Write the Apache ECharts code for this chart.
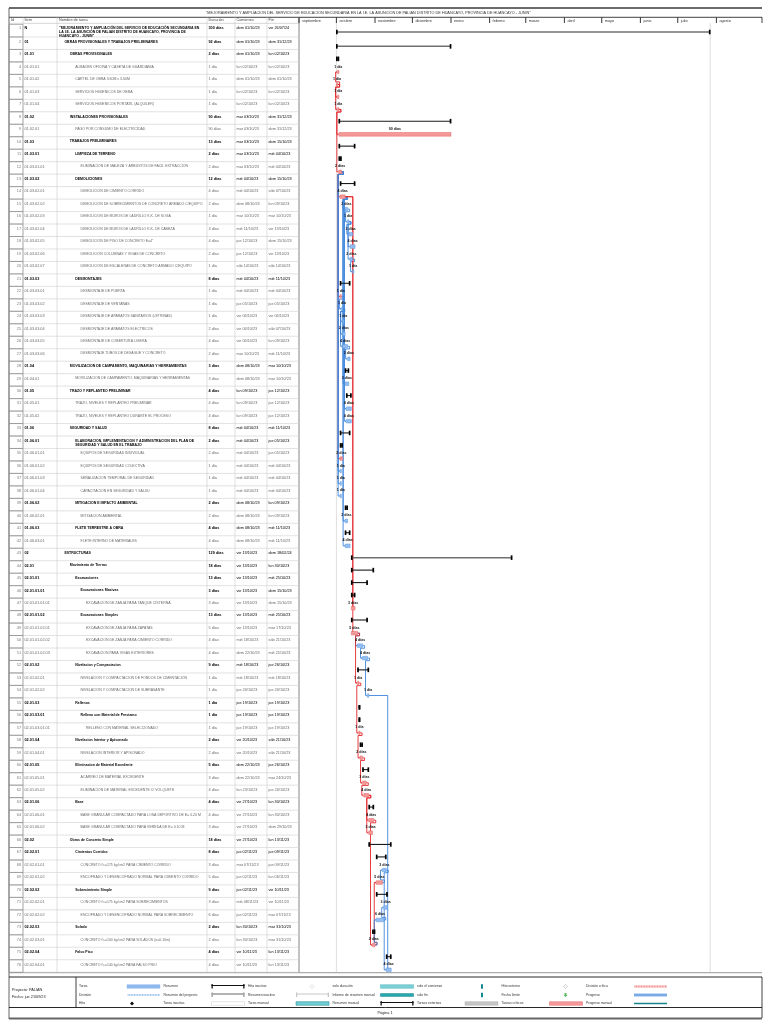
<!DOCTYPE html>
<html><head><meta charset="utf-8">
<script src="https://cdn.jsdelivr.net/npm/echarts@6/dist/echarts.min.js"></script>
<style>html,body{margin:0;padding:0;background:#fff}#c{width:768px;height:1024px}</style>
</head><body><div id="c"></div>
<script>
// ---------------- DATA ----------------
const title = '"MEJORAMIENTO Y AMPLIACION DEL SERVICIO DE EDUCACION SECUNDARIA EN LA I.E. LA ASUNCION DE PALIAN DISTRITO DE HUANCAYO, PROVINCIA DE HUANCAYO - JUNIN"';
const items = ['N','01','01.01','01.01.01','01.01.02','01.01.03','01.01.04','01.02','01.02.01','01.03',
 '01.03.01','01.03.01.01','01.03.02','01.03.02.01','01.03.02.02','01.03.02.03','01.03.02.04','01.03.02.05','01.03.02.06','01.03.02.07',
 '01.03.03','01.03.03.01','01.03.03.02','01.03.03.03','01.03.03.04','01.03.03.05','01.03.03.06','01.04','01.04.01','01.05',
 '01.05.01','01.05.02','01.06','01.06.01','01.06.01.01','01.06.01.02','01.06.01.03','01.06.01.04','01.06.02','01.06.02.01',
 '01.06.03','01.06.03.01','02','02.01','02.01.01','02.01.01.01','02.01.01.01.01','02.01.01.02','02.01.01.02.01','02.01.01.02.02',
 '02.01.01.02.03','02.01.02','02.01.02.01','02.01.02.02','02.01.03','02.01.03.01','02.01.03.01.01','02.01.04','02.01.04.01','02.01.05',
 '02.01.05.01','02.01.05.02','02.01.06','02.01.06.01','02.01.06.02','02.02','02.02.01','02.02.01.01','02.02.01.02','02.02.02',
 '02.02.02.01','02.02.02.02','02.02.03','02.02.03.01','02.02.04','02.02.04.01'];
const names = ['"MEJORAMIENTO Y AMPLIACIÓN DEL SERVICIO DE EDUCACIÓN SECUNDARIA EN LA I.E. LA ASUNCIÓN DE PALIAN DISTRITO DE HUANCAYO, PROVINCIA DE HUANCAYO - JUNIN"',
 'OBRAS PROVISIONALES Y TRABAJOS PRELIMINARES','OBRAS PROVISIONALES','ALMACEN OFICINA Y CASETA DE GUARDIANIA','CARTEL DE OBRA 3.60M x 3.60M',
 'SERVICIOS HIGIENICOS DE OBRA','SERVICIOS HIGIENICOS PORTATIL (ALQUILER)','INSTALACIONES PROVISIONALES','PAGO POR CONSUMO DE ELECTRICIDAD','TRABAJOS PRELIMINARES',
 'LIMPIEZA DE TERRENO','ELIMINACION DE MALEZA Y ARBUSTOS DE FACIL EXTRACCION','DEMOLICIONES','DEMOLICION DE CIMIENTO CORRIDO','DEMOLICION DE SOBRECIMIENTOS DE CONCRETO ARMADO C/EQUIPO',
 'DEMOLICION DE MUROS DE LADRILLO K.K. DE SOGA','DEMOLICION DE MUROS DE LADRILLO K.K. DE CABEZA','DEMOLICION DE PISO DE CONCRETO E=4"','DEMOLICION COLUMNAS Y VIGAS DE CONCRETO','DEMOLICION DE ESCALERAS DE CONCRETO ARMADO C/EQUIPO',
 'DESMONTAJES','DESMONTAJE DE PUERTA','DESMONTAJE DE VENTANAS','DESMONTAJE DE APARATOS SANITARIOS (LETRINAS)','DESMONTAJE DE APARATOS ELECTRICOS',
 'DESMONTAJE DE COBERTURA LIGERA','DESMONTAJE TUBOS DE DESAGUE Y CONCRETO','MOVILIZACION DE CAMPAMENTO, MAQUINARIAS Y HERRAMIENTAS','MOVILIZACION DE CAMPAMENTO, MAQUINARIAS Y HERRAMIENTAS','TRAZO Y REPLANTEO PRELIMINAR',
 'TRAZO, NIVELES Y REPLANTEO PRELIMINAR','TRAZO, NIVELES Y REPLANTEO DURANTE EL PROCESO','SEGURIDAD Y SALUD','ELABORACION, IMPLEMENTACION Y ADMINISTRACION DEL PLAN DE SEGURIDAD Y SALUD EN EL TRABAJO','EQUIPOS DE SEGURIDAD INDIVIDUAL',
 'EQUIPOS DE SEGURIDAD COLECTIVA','SEÑALIZACION TEMPORAL DE SEGURIDAD','CAPACITACION EN SEGURIDAD Y SALUD','MITIGACION E IMPACTO AMBIENTAL','MITIGACION AMBIENTAL',
 'FLETE TERRESTRE A OBRA','FLETE INTERNO DE MATERIALES','ESTRUCTURAS','Movimiento de Tierras','Excavaciones',
 'Excavaciones Masivas','EXCAVACION DE ZANJA PARA TANQUE CISTERNA','Excavaciones Simples','EXCAVACION DE ZANJA PARA ZAPATAS','EXCAVACION DE ZANJA PARA CIMIENTO CORRIDO',
 'EXCAVACION PARA VIGAS EXTERIORES','Nivelacion y Compactacion','NIVELACION Y COMPACTACION DE FONDOS DE CIMENTACION','NIVELACION Y COMPACTACION DE SUBRASANTE','Rellenos',
 'Relleno con Material de Prestamo','RELLENO CON MATERIAL SELECCIONADO','Nivelacion Interior y Apisonado','NIVELACION INTERIOR Y APISONADO','Eliminacion de Material Excedente',
 'ACARREO DE MATERIAL EXCEDENTE','ELIMINACION DE MATERIAL EXCEDENTE C/ VOLQUETE','Base','BASE GRANULAR COMPACTADO PARA LOSA DEPORTIVO DE E= 0.20 M','BASE GRANULAR COMPACTADO PARA VEREDA DE E= 0.10 M',
 'Obras de Concreto Simple','Cimientos Corridos',"CONCRETO f'c=175 kg/cm2 PARA CIMIENTO CORRIDO",'ENCOFRADO Y DESENCOFRADO NORMAL PARA CIMIENTO CORRIDO','Sobrecimiento Simple',
 "CONCRETO f'c=175 kg/cm2 PARA SOBRECIMIENTOS",'ENCOFRADO Y DESENCOFRADO NORMAL PARA SOBRECIMIENTO','Solado',"CONCRETO f'c=100 kg/cm2 PARA SOLADOS (e=0.10m)",'Falso Piso',
 "CONCRETO f'c=140 kg/cm2 PARA FALSO PISO"];
const durations = [300,92,2,1,1,1,1,90,90,13, 2,2,12,4,2,1,3,4,2,1, 8,1,1,1,2,4,2,3,3,4, 4,4,8,2,2,1,1,1,2,2,
 4,4,129,18,13,3,3,13,5,4, 4,9,1,1,1,1,1,2,2,5, 3,4,4,4,3,18,8,3,5,9, 3,6,2,2,4,4];
const starts = ['2023-10-01','2023-10-01','2023-10-01','2023-10-02','2023-10-01','2023-10-02','2023-10-02','2023-10-03','2023-10-03','2023-10-03',
 '2023-10-03','2023-10-03','2023-10-04','2023-10-04','2023-10-08','2023-10-10','2023-10-11','2023-10-12','2023-10-12','2023-10-14',
 '2023-10-04','2023-10-04','2023-10-05','2023-10-06','2023-10-06','2023-10-06','2023-10-10','2023-10-08','2023-10-08','2023-10-09',
 '2023-10-09','2023-10-09','2023-10-04','2023-10-04','2023-10-04','2023-10-04','2023-10-04','2023-10-04','2023-10-08','2023-10-08',
 '2023-10-08','2023-10-08','2023-10-13','2023-10-13','2023-10-13','2023-10-13','2023-10-13','2023-10-13','2023-10-13','2023-10-18',
 '2023-10-22','2023-10-18','2023-10-18','2023-10-26','2023-10-19','2023-10-19','2023-10-19','2023-10-20','2023-10-20','2023-10-22',
 '2023-10-22','2023-10-23','2023-10-27','2023-10-27','2023-10-27','2023-10-27','2023-11-02','2023-11-07','2023-11-02','2023-11-02',
 '2023-11-08','2023-11-02','2023-10-30','2023-10-30','2023-11-10','2023-11-10'];
const ends = ['2024-07-26','2023-12-31','2023-10-02','2023-10-02','2023-10-01','2023-10-02','2023-10-02','2023-12-31','2023-12-31','2023-10-15',
 '2023-10-04','2023-10-04','2023-10-15','2023-10-07','2023-10-09','2023-10-10','2023-10-13','2023-10-15','2023-10-13','2023-10-14',
 '2023-10-11','2023-10-04','2023-10-05','2023-10-06','2023-10-07','2023-10-09','2023-10-11','2023-10-10','2023-10-10','2023-10-12',
 '2023-10-12','2023-10-12','2023-10-11','2023-10-05','2023-10-05','2023-10-04','2023-10-04','2023-10-04','2023-10-09','2023-10-09',
 '2023-10-11','2023-10-11','2024-02-18','2023-10-30','2023-10-25','2023-10-15','2023-10-15','2023-10-25','2023-10-17','2023-10-21',
 '2023-10-25','2023-10-26','2023-10-18','2023-10-26','2023-10-19','2023-10-19','2023-10-19','2023-10-21','2023-10-21','2023-10-26',
 '2023-10-24','2023-10-26','2023-10-30','2023-10-30','2023-10-29','2023-11-13','2023-11-09','2023-11-09','2023-11-06','2023-11-10',
 '2023-11-10','2023-11-07','2023-10-31','2023-10-31','2023-11-13','2023-11-13'];
const summaryIds = [1,2,3,8,10,11,13,21,28,30,33,34,39,41,43,44,45,46,48,52,55,56,58,60,63,66,67,70,73,75];
const criticalIds = [4,5,6,7,9,12,14,22,35,47,49,53,57,59,61,62,64,65,69,74];
// [successor id, predecessor id]
const links = [[4,5],[6,5],[7,5],[9,7],[12,7],[14,12],[22,12],[35,12],[36,12],[37,12],[38,12],
 [15,14],[16,15],[17,16],[18,16],[19,16],[20,19],[23,22],[24,23],[25,23],[26,23],[27,26],
 [29,14],[31,14],[32,14],[40,14],[42,14],[47,14],[49,14],[50,49],[51,50],[53,49],[54,51],[57,53],[59,57],
 [61,59],[62,61],[64,62],[65,62],[74,64],[69,74],[72,74],[68,69],[71,72],[76,68],[76,54]];
const monthStarts = ['2023-09-01','2023-10-01','2023-11-01','2023-12-01','2024-01-01','2024-02-01','2024-03-01','2024-04-01','2024-05-01','2024-06-01','2024-07-01','2024-08-01'];
const monthLabels = ['septiembre','octubre','noviembre','diciembre','enero','febrero','marzo','abril','mayo','junio','julio','agosto'];
const headers = ['Id','Item','Nombre de tarea','Duración','Comienzo','Fin'];
const dayNames = ['dom','lun','mar','mié','jue','vie','sáb'];

// ---------------- LAYOUT ----------------
const FONT = '"Liberation Sans", Arial, sans-serif';
const FS = 3.8, FSN = 3.5;
const GRID_TOP = 24.5, ROW_H = 12.47;
const N = items.length;
const TL = 9;
const COL = {id: 9, item: 23, name: 57, dur: 207, start: 235, end: 267, right: 299};
const RIGHT = 762;
const DAY = 86400000;
const T = s => { const p = s.split('-').map(Number); return new Date(p[0], p[1]-1, p[2]).getTime(); };
const fmtDate = s => { const d = new Date(T(s)); const p = s.split('-'); return dayNames[d.getDay()] + ' ' + p[2] + '/' + p[1] + '/' + p[0].slice(2); };
const durText = d => d + (d === 1 ? ' día' : ' días');
const level = i => i === 0 ? 0 : items[i].split('.').length;
const ids = items.map((_, i) => String(i + 1));
const isSummary = i => summaryIds.indexOf(i + 1) >= 0;
const isCrit = i => criticalIds.indexOf(i + 1) >= 0;

// ---------------- RENDERERS ----------------
function renderTable(params, api) {
  const i = params.dataIndex;
  const c = api.coord([0, i]);
  const h = api.size([0, 1])[1];
  const top = c[1] - h / 2;
  const sum = isSummary(i);
  const col = sum ? '#000' : '#6a6a6a';
  const yt = i === 0 ? top + 1 : top + 4.8;
  const lvl = level(i);
  const va = i === 0 ? 'top' : 'middle';
  const f = (sz, b) => (b ? 'bold ' : '') + sz + 'px ' + FONT;
  const ch = [];
  ch.push({type: 'line', shape: {x1: COL.item, y1: top + h, x2: COL.right, y2: top + h}, style: {stroke: '#cfcfcf', lineWidth: 0.6}});
  ch.push({type: 'rect', shape: {x: COL.id, y: top, width: COL.item - COL.id, height: h}, style: {fill: 'none', stroke: '#8c8c8c', lineWidth: 0.6}});
  ch.push({type: 'text', style: {x: COL.item - 2, y: yt, text: ids[i], font: f(FS), fill: '#777', textAlign: 'right', textVerticalAlign: va}});
  ch.push({type: 'text', style: {x: COL.item + 1.5, y: yt, text: items[i], font: f(FS, sum), fill: col, textVerticalAlign: va}});
  const nx = COL.name + 2 + lvl * 5.4;
  const wrap = names[i].length > 62;
  ch.push({type: 'text', style: {x: nx, y: wrap ? yt - (i === 0 ? 0 : 2) : yt, text: names[i], font: f(FSN, sum), fill: col,
    width: COL.dur - nx - 1, overflow: 'break', lineHeight: 4.3, textVerticalAlign: wrap ? 'top' : 'middle'}});
  ch.push({type: 'text', style: {x: COL.dur + 1.5, y: yt, text: durText(durations[i]), font: f(FS, sum), fill: col, textVerticalAlign: va}});
  ch.push({type: 'text', style: {x: COL.start + 1.5, y: yt, text: fmtDate(starts[i]), font: f(FS), fill: col, textVerticalAlign: va}});
  ch.push({type: 'text', style: {x: COL.end + 1.5, y: yt, text: fmtDate(ends[i]), font: f(FS), fill: col, textVerticalAlign: va}});
  return {type: 'group', children: ch};
}
function renderMonths(params, api) {
  const x = api.coord([api.value(0), 0])[0];
  return {type: 'group', children: [
    {type: 'line', shape: {x1: x, y1: 17.5, x2: x, y2: 23}, style: {stroke: '#000', lineWidth: 0.8}},
    {type: 'text', style: {x: x + 3, y: 20.6, text: monthLabels[params.dataIndex], font: FS + 'px ' + FONT, fill: '#333', textVerticalAlign: 'middle'}}
  ]};
}
function renderGantt(params, api) {
  const i = api.value(0);
  const a = api.coord([api.value(1), i]);
  const b = api.coord([api.value(2), i]);
  const h = api.size([0, 1])[1];
  const top = a[1] - h / 2;
  if (api.value(3)) {
    const lvl = api.value(5);
    const y = i === 0 ? top + 7.5 : top + 9.4;
    const c = lvl <= 1 ? '#707070' : '#1a1a1a';
    return {type: 'group', children: [
      {type: 'line', shape: {x1: a[0], y1: y, x2: b[0], y2: y}, style: {stroke: c, lineWidth: lvl <= 1 ? 1.5 : 1.1}},
      {type: 'rect', shape: {x: a[0] - 0.4, y: y - 2.3, width: 1.7, height: 4.6}, style: {fill: '#000'}},
      {type: 'rect', shape: {x: b[0] - 1.3, y: y - 2.3, width: 1.7, height: 4.6}, style: {fill: '#000'}}
    ]};
  }
  const crit = api.value(4);
  const d = api.value(6);
  return {type: 'group', children: [
    {type: 'rect', shape: {x: a[0], y: top + 8.3, width: Math.max(b[0] - a[0], 1), height: 3.6},
      style: {fill: crit ? '#f59a9a' : '#94bdf0', stroke: crit ? '#e46464' : '#5c9be0', lineWidth: 0.5}},
    {type: 'text', style: {x: (a[0] + b[0]) / 2, y: top + 4.6, text: durText(d), font: 'bold 3.6px ' + FONT, fill: '#111', textAlign: 'center', textVerticalAlign: 'middle'}}
  ]};
}
function renderLink(params, api) {
  const si = api.value(0), pi = api.value(1);
  const p = api.coord([api.value(2), pi]);
  const s = api.coord([api.value(3), si]);
  const h = api.size([0, 1])[1];
  const yP = p[1] - h / 2 + 10.1, yS = s[1] - h / 2 + 10.1;
  const crit = api.value(4);
  const col = crit ? '#e5262b' : '#3f86dc';
  const dir = yS > yP ? 1 : -1;
  let pts, arrow;
  if (s[0] >= p[0] + 3) {
    const yEnd = yS - dir * 2;
    pts = [[p[0], yP], [s[0] + 1.5, yP], [s[0] + 1.5, yEnd]];
    arrow = [[s[0] + 0.3, yEnd], [s[0] + 2.7, yEnd], [s[0] + 1.5, yEnd + dir * 1.6]];
  } else {
    const yj = yP + dir * 2.6;
    const xv = s[0] - 2;
    pts = [[p[0], yP], [p[0] + 2, yP], [p[0] + 2, yj], [xv, yj], [xv, yS], [s[0] - 1.2, yS]];
    arrow = [[s[0] - 1.3, yS - 1.1], [s[0] - 1.3, yS + 1.1], [s[0], yS]];
  }
  return {type: 'group', children: [
    {type: 'polyline', shape: {points: pts}, style: {stroke: col, lineWidth: 0.9, fill: null}},
    {type: 'polygon', shape: {points: arrow}, style: {fill: col}}
  ]};
}

// ---------------- DATA FOR SERIES ----------------
const tableData = items.map((_, i) => [i]);
const ganttData = items.map((_, i) => [i, T(starts[i]), T(ends[i]) + DAY, isSummary(i) ? 1 : 0, isCrit(i) ? 1 : 0, level(i), durations[i]]);
const linkData = links.map(l => {
  const si = l[0] - 1, pi = l[1] - 1;
  return [si, pi, T(ends[pi]) + DAY, T(starts[si]), (isCrit(si) && isCrit(pi)) ? 1 : 0];
});
const monthData = monthStarts.map(m => [T(m), 0]);
const projData = [[T(starts[0]), 0], [T(ends[0]) + DAY, 0]];

// ---------------- STATIC FRAME / LEGEND ----------------
const g = [];
const line = (x1, y1, x2, y2, stroke, w) => g.push({type: 'line', shape: {x1, y1, x2, y2}, style: {stroke, lineWidth: w}, silent: true});
const txt = (x, y, text, o) => g.push({type: 'text', style: Object.assign({x, y, text, font: FS + 'px ' + FONT, fill: '#222', textVerticalAlign: 'middle'}, o || {}), silent: true});
line(9, 8, RIGHT, 8, '#6a6a6a', 2);
txt(206, 13, title, {fill: '#333'});
line(9, 17.3, RIGHT, 17.3, '#111', 0.8);
line(9, 23.3, COL.right, 23.3, '#bbb', 0.6);
[COL.item, COL.name, COL.dur, COL.start, COL.end].forEach(x => line(x, 17.3, x, GRID_TOP + N * ROW_H, '#c9c9c9', 0.6));
line(COL.right, 17.3, COL.right, GRID_TOP + N * ROW_H, '#777', 0.9);
line(9, 8, 9, 1019, '#555', 0.9);
line(RIGHT, 17.3, RIGHT, 23, '#111', 0.8);
const hx = [COL.id + 2, COL.item + 1.5, COL.name + 2, COL.dur + 1.5, COL.start + 1.5, COL.end + 1.5];
headers.forEach((hh, k) => txt(hx[k], 20.4, hh, {fill: '#444'}));
const tb = GRID_TOP + N * ROW_H;
line(9, tb + 0.5, RIGHT, tb + 0.5, '#888', 0.9);
line(9, 977, RIGHT, 977, '#111', 0.9);
line(9, 1007.5, RIGHT, 1007.5, '#111', 0.9);
line(RIGHT, 977, RIGHT, 1018, '#111', 0.8);
line(76, 977, 76, 1007.5, '#111', 0.8);
line(9, 1018.5, RIGHT, 1018.5, '#666', 1.8);
txt(12, 990, 'Proyecto: PALIAN');
txt(12, 997, 'Fecha: jue 21/09/23');
txt(385, 1012.5, 'Página 1', {textAlign: 'center'});
const legCols = [79, 163.5, 248, 332.5, 417, 501.5, 586];
const legRows = [986.5, 995, 1003.5];
const legLabels = [['Tarea', 'Resumen', 'Hito inactivo', 'solo duración', 'solo el comienzo', 'Hito externo', 'División crítica'],
  ['División', 'Resumen del proyecto', 'Resumen inactivo', 'Informe de resumen manual', 'solo fin', 'Fecha límite', 'Progreso'],
  ['Hito', 'Tarea inactiva', 'Tarea manual', 'Resumen manual', 'Tareas externas', 'Tareas críticas', 'Progreso manual']];
legLabels.forEach((row, r) => row.forEach((lab, c) => txt(legCols[c], legRows[r], lab, {font: '3.4px ' + FONT, fill: '#333'})));
function sym(r, c) {
  const x = legCols[c] + 48, y = legRows[r], w = 33;
  const key = r + '' + c;
  const rect = (fill, stroke, hgt) => g.push({type: 'rect', shape: {x, y: y - hgt / 2, width: w, height: hgt}, style: {fill, stroke: stroke || null, lineWidth: 0.5}, silent: true});
  const bracket = (col, lw) => { line(x, y - 1, x + w, y - 1, col, lw); g.push({type: 'rect', shape: {x: x, y: y - 2.5, width: 1.3, height: 4.5}, style: {fill: col}, silent: true}); g.push({type: 'rect', shape: {x: x + w - 1.3, y: y - 2.5, width: 1.3, height: 4.5}, style: {fill: col}, silent: true}); };
  const diamond = (fill, stroke) => g.push({type: 'polygon', shape: {points: [[x + 16, y - 2], [x + 18, y], [x + 16, y + 2], [x + 14, y]]}, style: {fill, stroke, lineWidth: 0.5}, silent: true});
  switch (key) {
    case '00': rect('#8fb8ee', '#8fb8ee', 3.6); break;
    case '01': bracket('#111', 1); break;
    case '02': diamond('#fff', '#bbb'); break;
    case '03': rect('#7fd0d6', '#4bb4bc', 3.6); break;
    case '04': g.push({type: 'rect', shape: {x: x + 16, y: y - 2.2, width: 2, height: 4.4}, style: {fill: '#13888f'}, silent: true}); break;
    case '05': diamond('#fff', '#999'); break;
    case '06': line(x, y, x + w, y, '#f08080', 1.8); g.push({type: 'line', shape: {x1: x, y1: y, x2: x + w, y2: y}, style: {stroke: '#fff', lineWidth: 2, lineDash: [0.6, 1]}, silent: true}); break;
    case '10': line(x, y, x + w, y, '#9cc2f0', 1.8); g.push({type: 'line', shape: {x1: x, y1: y, x2: x + w, y2: y}, style: {stroke: '#fff', lineWidth: 2, lineDash: [0.6, 1]}, silent: true}); break;
    case '11': bracket('#9a9a9a', 1.6); break;
    case '12': bracket('#c8c8c8', 1); break;
    case '13': rect('#2aa8b0', '#15858c', 2.8); break;
    case '14': g.push({type: 'rect', shape: {x: x + 16, y: y - 2.2, width: 2, height: 4.4}, style: {fill: '#13888f'}, silent: true}); break;
    case '15': g.push({type: 'polygon', shape: {points: [[x + 15, y - 2], [x + 17, y - 2], [x + 17, y], [x + 18, y], [x + 16, y + 2], [x + 14, y], [x + 15, y]]}, style: {fill: '#5cb85c'}, silent: true}); break;
    case '16': line(x, y - 0.8, x + w, y - 0.8, '#3f86dc', 1); line(x, y + 0.8, x + w, y + 0.8, '#3f86dc', 1); break;
    case '20': g.push({type: 'polygon', shape: {points: [[x + 5, y - 2], [x + 7, y], [x + 5, y + 2], [x + 3, y]]}, style: {fill: '#111'}, silent: true}); break;
    case '21': rect('#fff', '#c8c8c8', 3.6); break;
    case '22': rect('#72cdd3', '#15858c', 3.6); break;
    case '23': bracket('#111', 1); break;
    case '24': rect('#c6c6c6', '#b0b0b0', 3.6); break;
    case '25': rect('#f59a9a', '#e46464', 3.6); break;
    case '26': line(x, y, x + w, y, '#15858c', 1.4); break;
  }
}
for (let r = 0; r < 3; r++) for (let c = 0; c < 7; c++) sym(r, c);

// ---------------- CHART ----------------
const chart = echarts.init(document.getElementById('c'), null, {renderer: 'canvas'});
chart.setOption({
  animation: false,
  grid: [
    {left: COL.right, top: GRID_TOP, width: 456, height: N * ROW_H},
    {left: TL, top: GRID_TOP, width: COL.right - TL, height: N * ROW_H}
  ],
  xAxis: [
    {type: 'time', gridIndex: 0, min: T('2023-09-01'), max: T('2024-09-01'), show: false},
    {type: 'value', gridIndex: 1, min: 0, max: COL.right - TL, show: false}
  ],
  yAxis: [
    {type: 'category', gridIndex: 0, data: ids, inverse: true, show: false},
    {type: 'category', gridIndex: 1, data: ids, inverse: true, show: false}
  ],
  series: [
    {type: 'custom', xAxisIndex: 1, yAxisIndex: 1, data: tableData, renderItem: renderTable, clip: false, silent: true},
    {type: 'custom', xAxisIndex: 0, yAxisIndex: 0, data: projData, clip: false, silent: true,
      renderItem: (p, api) => { const x = api.coord([api.value(0), 0])[0]; return {type: 'line', shape: {x1: x, y1: 23, x2: x, y2: GRID_TOP + N * ROW_H}, style: {stroke: '#d6d6d6', lineWidth: 0.8}}; }},
    {type: 'custom', xAxisIndex: 0, yAxisIndex: 0, data: monthData, renderItem: renderMonths, clip: false, silent: true},
    {type: 'custom', xAxisIndex: 0, yAxisIndex: 0, data: linkData, renderItem: renderLink, clip: false, silent: true, z: 3},
    {type: 'custom', xAxisIndex: 0, yAxisIndex: 0, data: ganttData, renderItem: renderGantt, clip: false, silent: true, z: 4}
  ],
  graphic: g
});
</script>
</body></html>
